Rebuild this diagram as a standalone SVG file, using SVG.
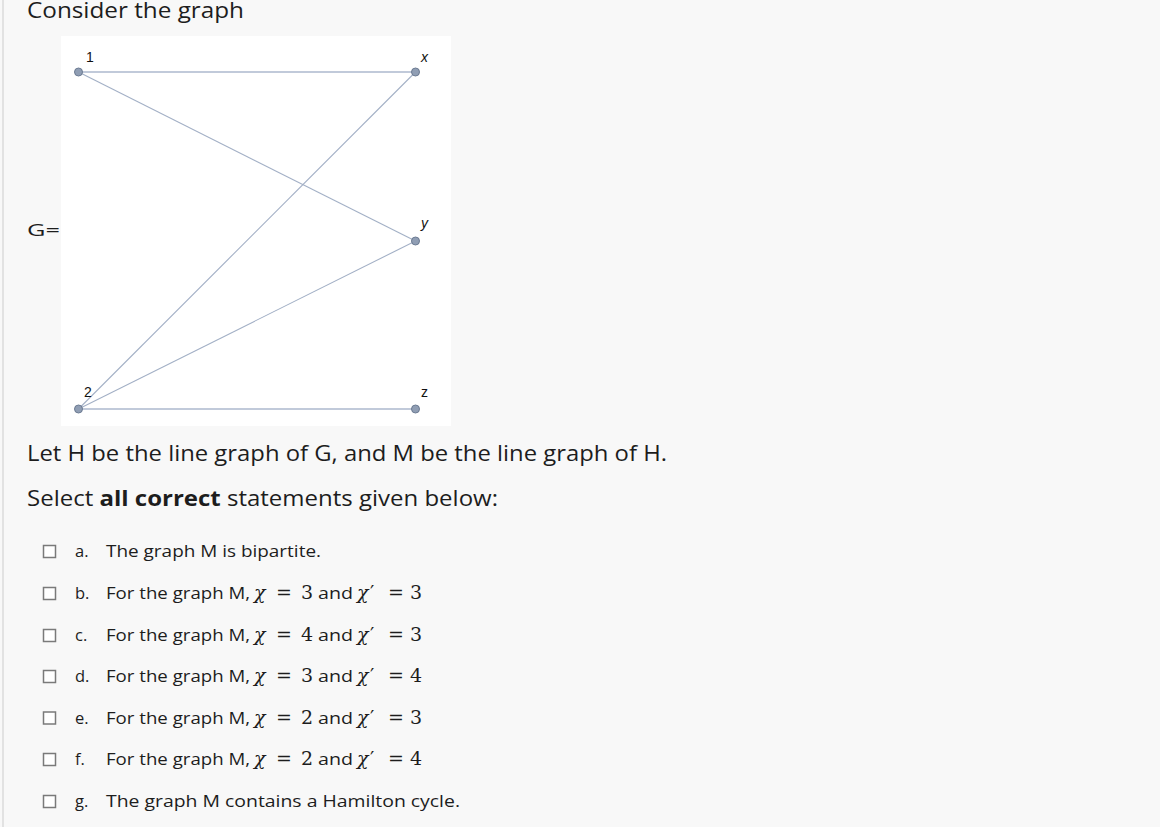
<svg xmlns="http://www.w3.org/2000/svg" width="1160" height="827" viewBox="0 0 1160 827">
<style>
.t{font-family:"Open Sans","Liberation Sans",sans-serif;fill:#1d1d1d}
.h{font-size:21px}
.o{font-size:16.5px}
.m{font-family:"DejaVu Serif","Liberation Serif",serif;font-size:19px;fill:#1d1d1d}
.mi{font-style:italic}
.lbl{font-family:"Liberation Sans",Arial,sans-serif;font-size:14px;fill:#111}
.edge{stroke:#a3b0c6;stroke-width:1.1;fill:none}
.edgeh{stroke:#8496b5;stroke-width:1.2;fill:none}
.node{fill:#909eb4;stroke:#6c7b92;stroke-width:1}
.cb{fill:#fff;stroke:#7a7a7a;stroke-width:1.5}
</style>
<rect x="0" y="0" width="1160" height="827" fill="#f8f8f8"/>
<rect x="2" y="0" width="2" height="827" fill="#e2e2e2"/>
<text class="t h" x="27" y="18" textLength="217" lengthAdjust="spacingAndGlyphs">Consider the graph</text>
<text class="t" x="27" y="236" font-size="17" textLength="33" lengthAdjust="spacingAndGlyphs">G=</text>
<rect x="61" y="36" width="390" height="390" fill="#ffffff"/>
<g id="connectors">
<line class="edgeh" x1="78.5" y1="72" x2="415.5" y2="72"/>
<line class="edge" x1="78.5" y1="72" x2="415.5" y2="241"/>
<line class="edge" x1="78.5" y1="409" x2="415.5" y2="72"/>
<line class="edge" x1="78.5" y1="409" x2="415.5" y2="241"/>
<line class="edgeh" x1="78.5" y1="409" x2="415.5" y2="409"/>
</g>
<g id="node-1"><circle class="node" cx="78.5" cy="72" r="4"/><text class="lbl" x="86" y="62">1</text></g>
<g id="node-x"><circle class="node" cx="415.5" cy="72" r="4"/><text class="lbl" x="421" y="62" font-style="italic">x</text></g>
<g id="node-y"><circle class="node" cx="415.5" cy="241" r="4"/><text class="lbl" x="421" y="228" font-style="italic">y</text></g>
<g id="node-2"><circle class="node" cx="78.5" cy="409" r="4"/><text class="lbl" x="84" y="397">2</text></g>
<g id="node-z"><circle class="node" cx="415.5" cy="409" r="4"/><text class="lbl" x="421" y="397">z</text></g>
<text class="t h" x="27" y="461" textLength="640" lengthAdjust="spacingAndGlyphs">Let H be the line graph of G, and M be the line graph of  H.</text>
<text class="t h" x="27" y="506" textLength="471" lengthAdjust="spacingAndGlyphs">Select <tspan font-weight="bold">all correct</tspan> statements given below:</text>
<g id="opt-a">
<rect class="cb" x="43.5" y="545.5" width="12" height="12"/>
<text class="t o" x="75" y="557">a.</text>
<text class="t o" x="106" y="557" textLength="215" lengthAdjust="spacingAndGlyphs">The graph M is bipartite.</text>
</g>
<g id="opt-b">
<rect class="cb" x="43.5" y="587.5" width="12" height="12"/>
<text class="t o" x="75" y="599">b.</text>
<text class="t o" x="106" y="599" textLength="144" lengthAdjust="spacingAndGlyphs">For the graph M,</text>
<text class="m mi" x="254" y="599">χ</text><text class="m" x="276" y="599">=</text><text class="m" x="301" y="599">3</text>
<text class="t o" x="318" y="599" textLength="35" lengthAdjust="spacingAndGlyphs">and</text>
<text class="m mi" x="357" y="599">χ</text><text class="m" x="370" y="599">′</text><text class="m" x="388" y="599">=</text><text class="m" x="410" y="599">3</text>
</g>
<g id="opt-c">
<rect class="cb" x="43.5" y="629.5" width="12" height="12"/>
<text class="t o" x="75" y="641">c.</text>
<text class="t o" x="106" y="641" textLength="144" lengthAdjust="spacingAndGlyphs">For the graph M,</text>
<text class="m mi" x="254" y="641">χ</text><text class="m" x="276" y="641">=</text><text class="m" x="301" y="641">4</text>
<text class="t o" x="318" y="641" textLength="35" lengthAdjust="spacingAndGlyphs">and</text>
<text class="m mi" x="357" y="641">χ</text><text class="m" x="370" y="641">′</text><text class="m" x="388" y="641">=</text><text class="m" x="410" y="641">3</text>
</g>
<g id="opt-d">
<rect class="cb" x="43.5" y="670.5" width="12" height="12"/>
<text class="t o" x="75" y="682">d.</text>
<text class="t o" x="106" y="682" textLength="144" lengthAdjust="spacingAndGlyphs">For the graph M,</text>
<text class="m mi" x="254" y="682">χ</text><text class="m" x="276" y="682">=</text><text class="m" x="301" y="682">3</text>
<text class="t o" x="318" y="682" textLength="35" lengthAdjust="spacingAndGlyphs">and</text>
<text class="m mi" x="357" y="682">χ</text><text class="m" x="370" y="682">′</text><text class="m" x="388" y="682">=</text><text class="m" x="410" y="682">4</text>
</g>
<g id="opt-e">
<rect class="cb" x="43.5" y="712" width="12" height="12"/>
<text class="t o" x="75" y="723.5">e.</text>
<text class="t o" x="106" y="723.5" textLength="144" lengthAdjust="spacingAndGlyphs">For the graph M,</text>
<text class="m mi" x="254" y="723.5">χ</text><text class="m" x="276" y="723.5">=</text><text class="m" x="301" y="723.5">2</text>
<text class="t o" x="318" y="723.5" textLength="35" lengthAdjust="spacingAndGlyphs">and</text>
<text class="m mi" x="357" y="723.5">χ</text><text class="m" x="370" y="723.5">′</text><text class="m" x="388" y="723.5">=</text><text class="m" x="410" y="723.5">3</text>
</g>
<g id="opt-f">
<rect class="cb" x="43.5" y="753.5" width="12" height="12"/>
<text class="t o" x="75" y="765">f.</text>
<text class="t o" x="106" y="765" textLength="144" lengthAdjust="spacingAndGlyphs">For the graph M,</text>
<text class="m mi" x="254" y="765">χ</text><text class="m" x="276" y="765">=</text><text class="m" x="301" y="765">2</text>
<text class="t o" x="318" y="765" textLength="35" lengthAdjust="spacingAndGlyphs">and</text>
<text class="m mi" x="357" y="765">χ</text><text class="m" x="370" y="765">′</text><text class="m" x="388" y="765">=</text><text class="m" x="410" y="765">4</text>
</g>
<g id="opt-g">
<rect class="cb" x="43.5" y="795.5" width="12" height="12"/>
<text class="t o" x="75" y="807">g.</text>
<text class="t o" x="106" y="807" textLength="354" lengthAdjust="spacingAndGlyphs">The graph M contains a Hamilton cycle.</text>
</g>
</svg>
